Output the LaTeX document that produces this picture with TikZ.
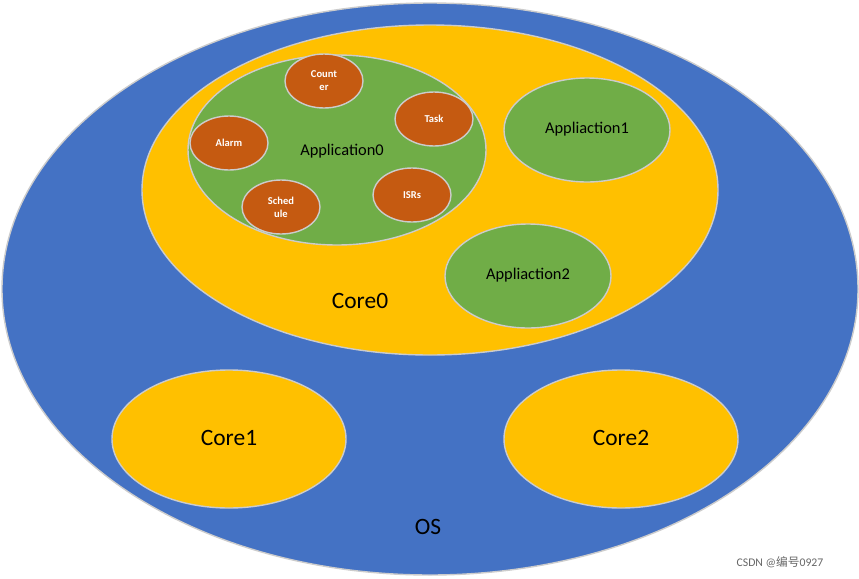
\documentclass[tikz,border=0pt]{standalone}
\usepackage{fontspec}
\setmainfont{Carlito}
\newfontfamily\cjk{Noto Sans CJK SC}
\begin{document}
\begin{tikzpicture}[x=0.03cm,y=-0.03cm,
  ell/.style={draw=black!20,line width=1.2pt},
  os/.style={ell,fill={rgb,255:red,68;green,114;blue,196}},
  core/.style={ell,fill={rgb,255:red,255;green,192;blue,0}},
  app/.style={ell,fill={rgb,255:red,112;green,173;blue,71}},
  obj/.style={ell,fill={rgb,255:red,197;green,90;blue,17}},
  lbl/.style={font=\fontsize{20}{20}\selectfont},
  alab/.style={font=\fontsize{14}{14}\selectfont},
  olab/.style={font=\fontsize{9}{11}\selectfont\bfseries,text=white,align=center}]
\useasboundingbox (0,0) rectangle (859,578);
\fill[white] (0,0) rectangle (859,578);
\draw[os] (430,289) ellipse [x radius=428,y radius=286];
\draw[core] (430,190) ellipse [x radius=288,y radius=165];
\draw[app] (337,150) ellipse [x radius=149,y radius=95];
\draw[app] (587,130) ellipse [x radius=83,y radius=52];
\draw[app] (528,276) ellipse [x radius=83,y radius=52];
\draw[core] (229,439) ellipse [x radius=117,y radius=69];
\draw[core] (621,439) ellipse [x radius=117,y radius=69];
\foreach \n/\x/\y in {cnt/324/81,task/434/119,alarm/229/143,isr/412/195,sch/281/207}
  \draw[obj] (\x,\y) ellipse [x radius=39,y radius=27];
\node[olab] (tcnt) at (324,81) {Count\\er};
\node[olab] (ttask) at (434,119) {Task};
\node[olab] (talarm) at (229,143) {Alarm};
\node[olab] (tisr) at (412,195) {ISRs};
\node[olab] (tsch) at (281,207) {Sched\\ule};
\node[alab] (a0) at (342,151) {Application0};
\node[alab] (a1) at (587,129) {Appliaction1};
\node[alab] (a2) at (528,275) {Appliaction2};
\node[lbl] (c0) at (360,301) {Core0};
\node[lbl] (c1) at (229,438) {Core1};
\node[lbl] (c2) at (621,438) {Core2};
\node[lbl] (os) at (428,527) {OS};
\node[font=\fontsize{10}{10}\selectfont,text=black!60] (wm) at (780,562) {CSDN @{\cjk 编号}0927};
\end{tikzpicture}
\end{document}
